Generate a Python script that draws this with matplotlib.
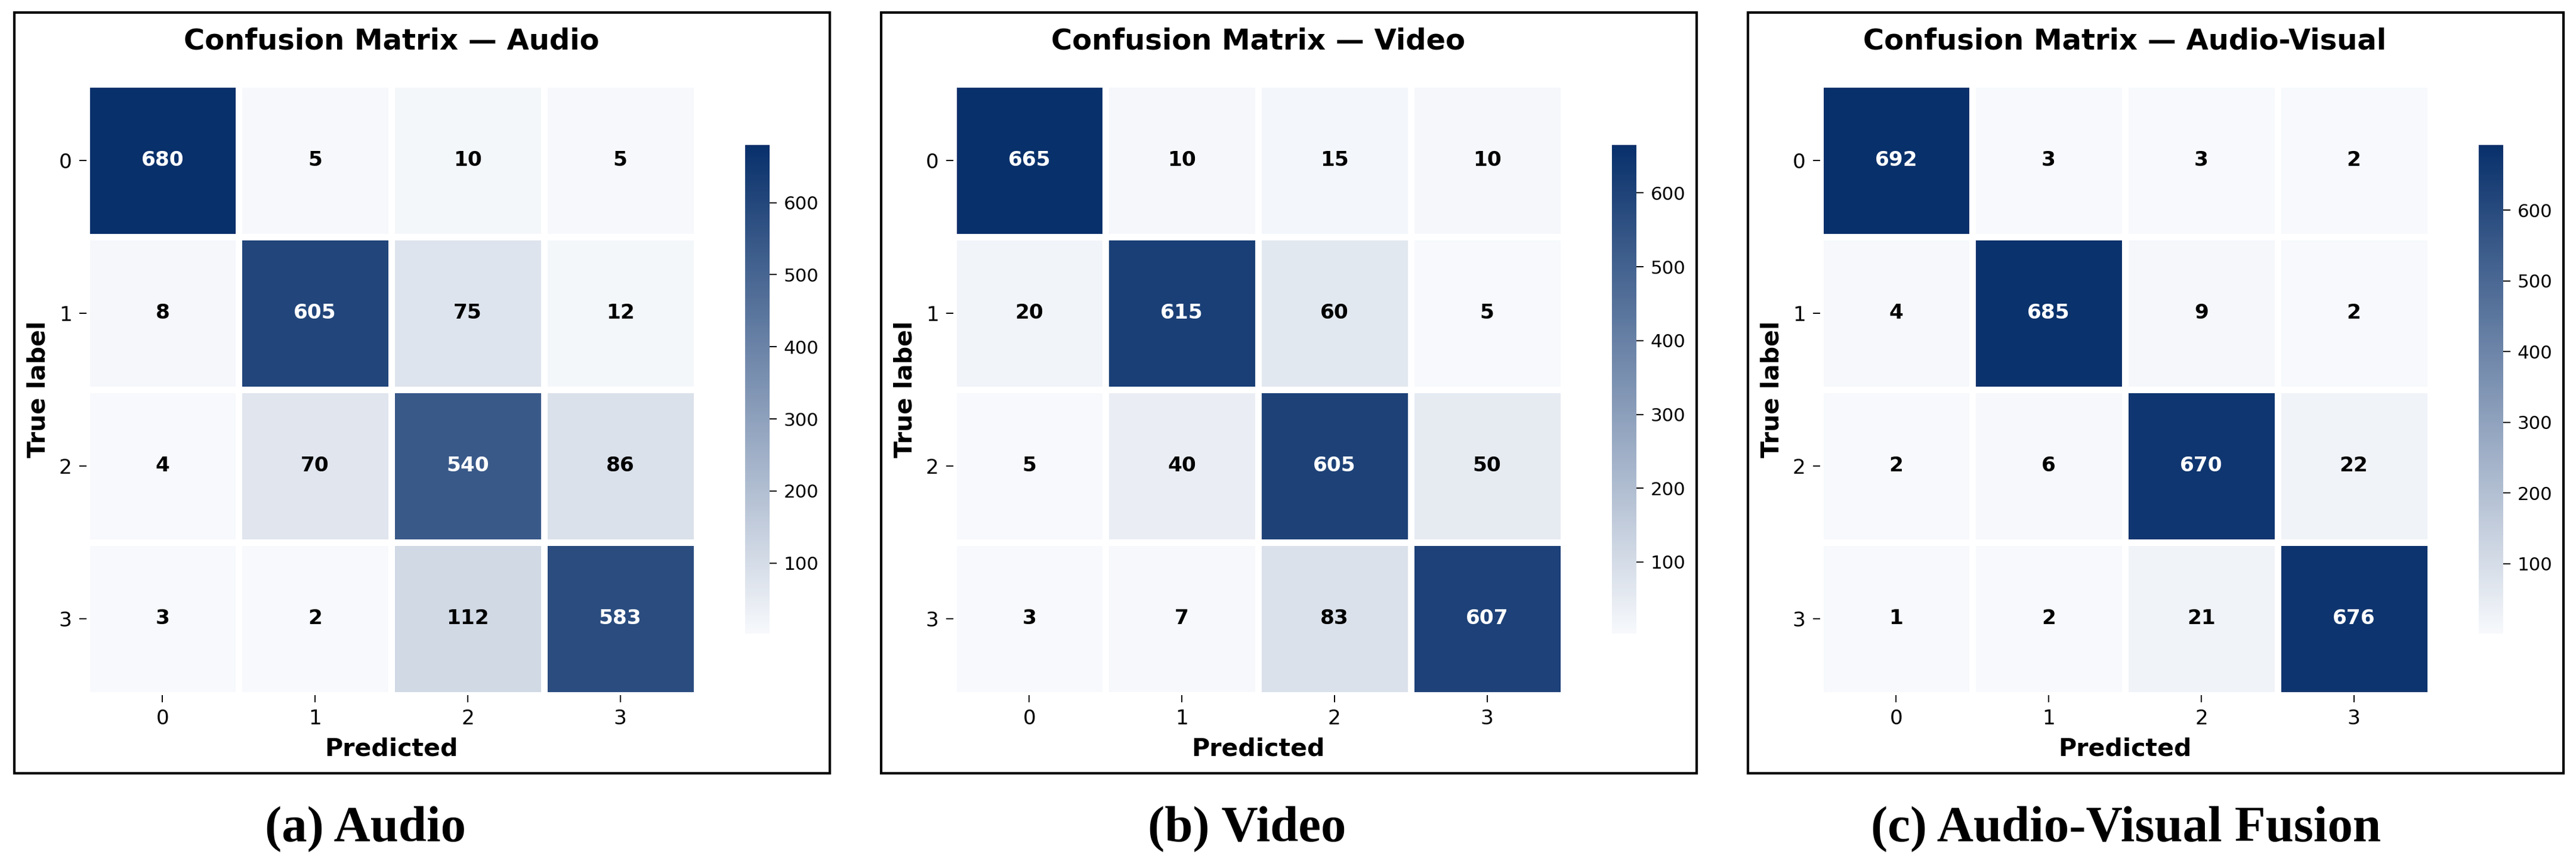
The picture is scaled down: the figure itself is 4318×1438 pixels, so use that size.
import numpy as np
import matplotlib
matplotlib.use("Agg")
import matplotlib.pyplot as plt
from matplotlib.colors import LinearSegmentedColormap
from matplotlib.patches import Rectangle

# confusion matrices (rows = true label, cols = predicted)
audio = [[680, 5, 10, 5],
         [8, 605, 75, 12],
         [4, 70, 540, 86],
         [3, 2, 112, 583]]
video = [[665, 10, 15, 10],
         [20, 615, 60, 5],
         [5, 40, 605, 50],
         [3, 7, 83, 607]]
fusion = [[692, 3, 3, 2],
          [4, 685, 9, 2],
          [2, 6, 670, 22],
          [1, 2, 21, 676]]

class_labels = ["0", "1", "2", "3"]
titles = ["Confusion Matrix — Audio", "Confusion Matrix — Video",
          "Confusion Matrix — Audio-Visual"]
captions = ["(a) Audio", "(b) Video", "(c) Audio-Visual Fusion"]
cbar_ticks = [100, 200, 300, 400, 500, 600]

W, H = 4318, 1438
fig = plt.figure(figsize=(W / 100, H / 100), dpi=100)
fig.patch.set_facecolor("white")

cmap = LinearSegmentedColormap.from_list("navy", ["#f7f9fc", "#08306b"])


def box(x0, y0, x1, y1):
    # pixel box (top-left origin) -> figure fraction rect
    return [x0 / W, 1 - y1 / H, (x1 - x0) / W, (y1 - y0) / H]


frame_left = [24, 1477, 2930]
cap_x = [613, 2090, 3563]

for k, mat in enumerate([audio, video, fusion]):
    data = np.array(mat)
    F = frame_left[k]

    # outer frame round each panel
    fx0, fy0, fx1, fy1 = F, 21, F + 1367, 1296
    fig.add_artist(Rectangle((fx0 / W, 1 - fy1 / H), (fx1 - fx0) / W, (fy1 - fy0) / H,
                             transform=fig.transFigure, fill=False,
                             lw=3.0, ec="black"))

    ax = fig.add_axes(box(F + 120.5, 140.5, F + 1143.5, 1164.5))
    cax = fig.add_axes(box(F + 1225, 243, F + 1266, 1062))

    vmin, vmax = data.min(), data.max()
    mesh = ax.pcolormesh(np.arange(5), np.arange(5), data, cmap=cmap,
                         vmin=vmin, vmax=vmax, edgecolors="white", linewidth=6.5)
    ax.set_xlim(0, 4)
    ax.set_ylim(4, 0)
    for s in ax.spines.values():
        s.set_visible(False)

    for i in range(4):
        for j in range(4):
            v = data[i, j]
            r, g, b, _ = cmap((v - vmin) / (vmax - vmin))
            lum = 0.2126 * r + 0.7152 * g + 0.0722 * b
            ax.text(j + 0.5, i + 0.5, str(v), ha="center", va="center",
                    fontsize=24.7, fontweight="bold",
                    color="black" if lum > 0.408 else "white")

    ax.set_xticks(np.arange(4) + 0.5)
    ax.set_yticks(np.arange(4) + 0.5)
    ax.set_xticklabels(class_labels)
    ax.set_yticklabels(class_labels, rotation=0)
    ax.tick_params(labelsize=24.7, length=8.6, width=1.4, pad=8.6)
    ax.set_xlabel("Predicted", fontsize=29.6, fontweight="bold", labelpad=9.9)
    ax.set_ylabel("True label", fontsize=29.6, fontweight="bold", labelpad=9.9)
    ax.set_title(titles[k], fontsize=34.6, fontweight="bold", pad=42)

    cb = fig.colorbar(mesh, cax=cax)
    cb.outline.set_visible(False)
    cb.set_ticks(cbar_ticks)
    cb.ax.tick_params(labelsize=22.2, length=8.6, width=1.4, pad=8.6)

    fig.text(cap_x[k] / W, 1 - 1410 / H, captions[k], ha="center", va="baseline",
             fontsize=61, fontweight="bold", family="Liberation Serif")

fig.savefig("out.png", dpi=100, facecolor="white")
